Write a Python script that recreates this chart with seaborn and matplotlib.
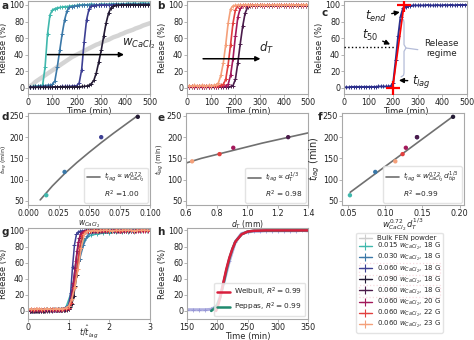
import matplotlib
matplotlib.use("Agg")
import matplotlib.pyplot as plt
import seaborn as sns
from matplotlib.lines import Line2D
from matplotlib.patches import Rectangle

sns.set_style("ticks")
plt.rcParams['font.family'] = ['DejaVu Sans']
plt.rcParams['mathtext.fontset'] = 'dejavusans'

# ---------------- release curves (sampled every 10 min) ----------------
time_min = list(range(0, 501, 10))

bulk_powder = [0, 2, 4, 7, 9, 11, 13, 15, 17, 19,
               21, 23, 25, 27, 29, 31, 33, 35, 37, 38.5,
               40, 41.5, 43, 44.5, 46, 47.5, 49, 50.5, 52, 53,
               54.5, 56, 57, 58, 59.5, 61, 62, 63, 64.5, 65.5,
               67, 68, 69, 70, 71.5, 72.5, 73.5, 75, 76, 77, 78]

w015_18G = [0.5, 1, 1.5, 2, 2, 2.5, 3,
            25, 65, 88,
            94, 95.5, 96.5, 97, 97.5, 98, 98, 98.5, 99, 99, 99.5,
            100, 100, 100.5, 100, 100.5, 101, 100.5, 100, 100.5, 101,
            101, 100.5, 101, 101, 101.5, 101, 101, 101.5, 101, 101.5,
            102, 101.5, 102, 102, 101.5, 102, 102.5, 102, 102, 102]

w030_18G = [1, 1, 1, 1.5, 1.5, 2, 2, 2.5, 3, 3, 4,
            8, 25, 45, 65, 82, 93, 97, 98, 98.5, 99,
            99.5, 99.5, 100, 100, 99.5, 100, 100.5, 100, 100, 100.5,
            100, 100.5, 100.5, 100, 100.5, 101, 100.5, 100.5, 101, 100.5,
            101, 100.5, 101, 101, 100.5, 101, 101, 101.5, 101, 101]

w060_18G = [0.5, 0.5, 0.5, 0.5, 1, 1, 1, 1, 1, 1, 1, 1, 1, 1, 1.5, 1.5, 1.5, 1.5, 2, 2, 2.5,
            6, 22, 55, 82, 95, 98.5, 99, 99.5, 99.5, 100,
            100, 100, 99.5, 100, 100, 100.5, 100, 100, 100.5, 100,
            100, 100.5, 100, 100, 100.5, 100, 100.5, 100.5, 100, 100.5]

w090_18G = [0.5, 0.5, 0.5, 0.5, 0.5, 0.5, 0.5, 0.5, 0.5, 0.5, 0.5, 1, 1, 1, 1, 1, 1, 1, 1, 1,
            1, 1, 1.5, 1.5, 2,
            3, 5, 9, 18, 31, 45, 62, 78, 90, 96.5,
            98.5, 99.5, 99.5, 100, 100, 100,
            100, 100, 100.5, 100, 100, 100.5, 100, 100, 100.5, 100]

d18G = [0.5, 0.5, 0.5, 0.5, 0.5, 0.5, 0.5, 0.5, 0.5, 0.5, 0.5, 0.5, 1, 1, 1, 1, 1, 1, 1.5,
        2.5, 10, 30, 53, 74, 90, 97, 98.5, 99,
        99, 99, 99.5, 99, 99, 99.5, 99, 99, 99.5, 99,
        99, 99.5, 99, 99, 99.5, 99, 99, 99.5, 99, 99,
        99.5, 99, 99]

d20G = [1, 1, 1.5, 1, 1, 1.5, 1, 1, 1.5, 1, 1.5, 1.5, 1, 1.5, 1.5, 2, 2,
        4, 15, 35, 62, 85, 96, 98.5, 99,
        99, 99.5, 99.5, 99, 99.5, 99.5, 99.5, 99, 99.5, 99.5,
        99.5, 99.5, 99, 99.5, 99.5, 99.5, 99.5, 99, 99.5, 99.5,
        99.5, 99.5, 99.5, 99, 99.5, 99.5]

d22G = [1.5, 2, 1.5, 2, 2, 1.5, 2, 2.5, 2, 2, 2.5, 2, 2.5, 2.5, 3,
        4, 10, 28, 52, 78, 94, 98.5, 99.5,
        99.5, 100, 100, 99.5, 100, 100, 100, 99.5, 100, 100,
        100, 99.5, 100, 100, 100, 100, 99.5, 100, 100, 100,
        100, 100, 99.5, 100, 100, 100, 100, 100]

d23G = [2, 2.5, 2, 3, 2.5, 2, 3, 2.5, 2, 3, 2.5, 3, 3.5,
        6, 15, 30, 52, 78, 95, 99, 99.5,
        100, 99.5, 100, 100, 100.5, 100, 99.5, 100, 100, 100,
        100.5, 100, 100, 99.5, 100, 100, 100.5, 100, 100, 100,
        100, 100.5, 100, 100, 100, 99.5, 100, 100, 100.5, 100]

# single release profile used to define the characteristic times
profile_c = [0.5, 0.5, 0.5, 1, 1, 1, 1, 1, 1, 1, 1, 1, 1, 1, 1.5, 1.5, 1.5, 1.5, 1.5, 2,
             6, 33, 62, 86, 96, 98, 99,
             99, 99.5, 99.5, 99.5, 99.5, 99.5, 99.5, 100, 99.5, 99.5,
             99.5, 100, 99.5, 99.5, 100, 99.5, 100, 100, 99.5, 100,
             100, 100, 100, 100]
t_lag_c = 198
t_end_c = 244
t_50_c = 208

# onset times used to normalise the time axis
onset_w = [65, 110, 210, 250]
onset_d = [190, 170, 150, 130]

# ---------------- lag times ----------------
w_cacl2 = [0.015, 0.030, 0.060, 0.090]
tlag_w = [63, 118, 200, 248]
w_fit = [0.01, 0.02, 0.03, 0.04, 0.05, 0.06, 0.07, 0.08, 0.09]
tlag_w_fit = [52, 85, 114, 140, 164, 187, 209, 230, 251]

d_tip = [0.64, 0.82, 0.91, 1.27]
tlag_d = [143, 160, 175, 200]
d_fit = [0.6, 0.7, 0.8, 0.9, 1.0, 1.1, 1.2, 1.3, 1.4]
tlag_d_fit = [139, 150, 159, 168, 177, 186, 194, 202, 210]

comb_w = [0.015, 0.030, 0.060, 0.090, 0.060, 0.060, 0.060, 0.060]
comb_d = [1.27, 1.27, 1.27, 1.27, 1.27, 0.91, 0.82, 0.64]
comb_tlag = [63, 118, 200, 248, 200, 175, 160, 143]
comb_fit_x = [0.053, 0.192]
comb_fit_y = [70, 250]

# ---------------- model fits ----------------
weibull_t = [198, 200, 205, 210, 215, 220, 225, 230, 240, 250, 260, 280, 350]
weibull_r = [0, 3, 17, 35, 52, 66, 77, 86, 95, 98.5, 99.5, 100, 100]
peppas_t = [190, 195, 200, 205, 210, 215, 220, 225, 230, 240, 250, 260, 350]
peppas_r = [0, 3, 8, 17, 33, 50, 65, 77, 86, 95, 98.5, 99.5, 100]

# ---------------- styling ----------------
col_bulk = '#cdcdcd'
cols_w = ['#40b8ad', '#3b78a8', '#3d3f93', '#241b35']
cols_d = ['#4b1c4b', '#a3195b', '#e2403f', '#f4a07a']
col_c = '#2c2f8c'
col_h = '#8c8cd2'
spine_col = '#a8a8a8'
fs_tick = 5.8
fs_lab = 6


def style(ax, tick_fs=fs_tick):
    ax.set_facecolor('none')
    for s in ax.spines.values():
        s.set_visible(True)
        s.set_color(spine_col)
        s.set_linewidth(0.8)
    ax.tick_params(labelsize=tick_fs, length=2, width=0.6, pad=0.8,
                   color=spine_col, labelcolor='#222222')


def curve(ax, x, y, color, lw=1.2, ms=3.5, alpha=1.0, z=2, marker='+'):
    sns.lineplot(x=x, y=y, color=color, lw=lw, marker=marker, markersize=ms,
                 markeredgewidth=0.7, markeredgecolor=color, alpha=alpha,
                 ax=ax, zorder=z, legend=False, estimator=None)


W, H = 474, 340
fig = plt.figure(figsize=(W / 100, H / 100), dpi=100)


def add_ax(l, r, t, b):
    return fig.add_axes([l / W, 1 - b / H, (r - l) / W, (b - t) / H])


ax_a = add_ax(28, 150, 1, 94)
ax_b = add_ax(187, 308, 1, 94)
ax_c = add_ax(344, 467, 1, 94)
ax_d = add_ax(28, 150, 113, 205)
ax_e = add_ax(186, 308, 113, 205)
ax_f = add_ax(342, 464, 113, 205)
ax_g = add_ax(28, 150, 228, 319)
ax_h = add_ax(187, 308, 228, 319)

w_series = [w015_18G, w030_18G, w060_18G, w090_18G]
d_series = [d18G, d20G, d22G, d23G]

# a: effect of CaCl2 concentration
curve(ax_a, time_min, bulk_powder, col_bulk, lw=3.2, ms=0, alpha=0.85, z=1, marker=None)
for ys, c in zip(w_series, cols_w):
    curve(ax_a, time_min, ys, c)
ax_a.annotate('', xy=(405, 40), xytext=(68, 40),
              arrowprops=dict(arrowstyle='-|>', color='k', lw=1.1, mutation_scale=7))
ax_a.text(385, 53, r'$w_{CaCl_2}$', fontsize=8.5, va='center', ha='left')

# b: effect of tip diameter
for ys, c in zip(d_series, cols_d):
    curve(ax_b, time_min, ys, c)
ax_b.annotate('', xy=(315, 35), xytext=(55, 35),
              arrowprops=dict(arrowstyle='-|>', color='k', lw=1.1, mutation_scale=7))
ax_b.text(298, 48, r'$d_T$', fontsize=8.5, va='center', ha='left')

# c: characteristic times
curve(ax_c, time_min, profile_c, col_c, lw=1.4)
ax_c.plot([0, t_50_c], [49, 49], ':', color='k', lw=1.0, zorder=3)
ax_c.plot([t_lag_c, t_end_c], [0, 100], color='red', lw=1.2, zorder=4)
ax_c.plot([t_lag_c, t_end_c], [0, 100], '+', color='red', ms=10, mew=1.6, zorder=5)
arr = dict(arrowstyle='-|>', color='k', lw=1.0, mutation_scale=7, shrinkA=1, shrinkB=2)
ax_c.annotate(r'$t_{end}$', xy=(t_end_c - 6, 92), xytext=(85, 86), fontsize=8.5,
              va='center', arrowprops=arr)
ax_c.annotate(r'$t_{50}$', xy=(t_50_c - 10, 51), xytext=(72, 63), fontsize=8.5,
              va='center', arrowprops=arr)
ax_c.annotate(r'$t_{lag}$', xy=(t_lag_c + 14, 9), xytext=(278, 8), fontsize=8.5,
              va='center', arrowprops=arr)
bx = [232, 242, 244, 244, 252, 244, 244, 242, 232]
by = [84, 82, 79, 52, 48, 44, 18, 15, 13]
ax_c.plot(bx, by, color='#b4bcd8', lw=0.9, zorder=2)
ax_c.plot([252, 300], [48, 46], color='#b4bcd8', lw=0.9, zorder=2)
ax_c.text(395, 47, 'Release\nregime', fontsize=6.3, ha='center', va='center',
          color='#222222', linespacing=1.1)

for ax in (ax_a, ax_b, ax_c):
    ax.set_xlim(0, 500)
    ax.set_ylim(-7.6, 104.8)
    ax.set_xticks([0, 100, 200, 300, 400, 500])
    ax.set_yticks([0, 20, 40, 60, 80, 100])
    ax.set_xlabel('Time (min)', fontsize=fs_lab, labelpad=0.3)
    ax.set_ylabel('Release (%)', fontsize=fs_lab, labelpad=0.5)
    style(ax)


def fit_legend(ax, label, r2):
    hs = [Line2D([], [], color='#707070', lw=1.2), Line2D([], [], color='none')]
    ax.legend(hs, [label, r2], loc='lower right', fontsize=5.3, handlelength=1.8,
              handletextpad=0.5, borderpad=0.4, labelspacing=0.5, frameon=True,
              edgecolor='#dddddd', fancybox=True, borderaxespad=0.3)


# d: lag time vs CaCl2
sns.lineplot(x=w_fit, y=tlag_w_fit, color='#707070', lw=1.2, ax=ax_d, legend=False)
sns.scatterplot(x=w_cacl2, y=tlag_w, hue=[str(v) for v in w_cacl2], palette=cols_w,
                s=10, edgecolor='none', ax=ax_d, legend=False, zorder=3)
ax_d.set_xlim(0, 0.1)
ax_d.set_xticks([0, 0.025, 0.05, 0.075, 0.1])
ax_d.set_xticklabels(['0.000', '0.025', '0.050', '0.075', '0.100'])
ax_d.set_xlabel(r'$w_{CaCl_2}$', fontsize=5.5, labelpad=0.3)
fit_legend(ax_d, r'$t_{lag} \propto w_{CaCl_2}^{0.72}$', r'$R^2$ =1.00')

# e: lag time vs tip diameter
sns.lineplot(x=d_fit, y=tlag_d_fit, color='#707070', lw=1.2, ax=ax_e, legend=False)
sns.scatterplot(x=d_tip, y=tlag_d, hue=[str(v) for v in d_tip], palette=cols_d[::-1],
                s=10, edgecolor='none', ax=ax_e, legend=False, zorder=3)
ax_e.set_xlim(0.6, 1.4)
ax_e.set_xticks([0.6, 0.8, 1.0, 1.2, 1.4])
ax_e.set_xlabel(r'$d_T$ (mm)', fontsize=5.5, labelpad=0.3)
fit_legend(ax_e, r'$t_{lag} \propto d_T^{1/3}$', r'$R^2$ = 0.98')

# f: combined scaling
comb_x = [w ** 0.72 * d ** (1 / 3) for w, d in zip(comb_w, comb_d)]
comb_cols = cols_w + cols_d
sns.lineplot(x=comb_fit_x, y=comb_fit_y, color='#707070', lw=1.2, ax=ax_f, legend=False)
sns.scatterplot(x=comb_x, y=comb_tlag, hue=list(range(len(comb_x))), palette=comb_cols,
                s=10, edgecolor='none', ax=ax_f, legend=False, zorder=3)
ax_f.set_xlim(0.042, 0.206)
ax_f.set_xticks([0.05, 0.10, 0.15, 0.20])
ax_f.set_xticklabels(['0.05', '0.10', '0.15', '0.20'])
ax_f.set_xlabel(r'$w_{CaCl_2}^{0.72}\,d_T^{1/3}$', fontsize=6)
ax_f.xaxis.set_label_coords(0.5, -0.125)
fit_legend(ax_f, r'$t_{lag} \propto w_{CaCl_2}^{0.72}\,d_{tip}^{1/3}$', r'$R^2$ =0.99')

for ax, ylfs, tfs in ((ax_d, 4.5, 5.5), (ax_e, 4.8, fs_tick), (ax_f, 7, fs_tick)):
    ax.set_ylim(40, 257)
    ax.set_yticks([50, 100, 150, 200, 250])
    ax.set_ylabel(r'$t_{lag}$ (min)', fontsize=ylfs, labelpad=0.5)
    style(ax, tfs)
ax_d.yaxis.set_label_coords(-0.148, 0.5)

# g: normalised time
for ys, c, t0 in zip(w_series, cols_w, onset_w):
    curve(ax_g, [t / t0 for t in time_min], ys, c, lw=1.1, ms=3)
for ys, c, t0 in zip(d_series, cols_d, onset_d):
    curve(ax_g, [t / t0 for t in time_min], ys, c, lw=1.1, ms=3)
ax_g.set_xlim(0, 3)
ax_g.set_xticks([0, 1, 2, 3])
ax_g.set_xlabel(r'$t/\hat{t}_{lag}$', fontsize=5.8)
ax_g.xaxis.set_label_coords(0.5, -0.05)

# h: model fits
curve(ax_h, time_min, profile_c, col_h, lw=2.2, ms=3, alpha=0.7, z=1)
sns.lineplot(x=weibull_t, y=weibull_r, color='#d81e3c', lw=1.8, ax=ax_h,
             label=r'Weibull, $R^2 = 0.99$', zorder=3)
sns.lineplot(x=peppas_t, y=peppas_r, color='#1f8a6e', lw=1.8, ax=ax_h,
             label=r'Peppas, $R^2 = 0.99$', zorder=2)
ax_h.set_xlim(150, 350)
ax_h.set_xticks([150, 200, 250, 300, 350])
ax_h.set_xlabel('Time (min)', fontsize=fs_lab, labelpad=0.3)
ax_h.legend(loc='lower right', fontsize=5.3, handlelength=1.8, handletextpad=0.5,
            borderpad=0.4, labelspacing=0.4, edgecolor='#dddddd', borderaxespad=0.4)

for ax in (ax_g, ax_h):
    ax.set_ylim(-10, 103)
    ax.set_yticks([0, 20, 40, 60, 80, 100])
    ax.set_ylabel('Release (%)', fontsize=fs_lab, labelpad=0.5)
    style(ax)

# shared legend
leg_labels = ['Bulk FEN powder',
              r'0.015 $w_{CaCl_2}$, 18 G',
              r'0.030 $w_{CaCl_2}$, 18 G',
              r'0.060 $w_{CaCl_2}$, 18 G',
              r'0.090 $w_{CaCl_2}$, 18 G',
              r'0.060 $w_{CaCl_2}$, 18 G',
              r'0.060 $w_{CaCl_2}$, 20 G',
              r'0.060 $w_{CaCl_2}$, 22 G',
              r'0.060 $w_{CaCl_2}$, 23 G']
leg_cols = [col_bulk] + cols_w + cols_d
handles = [Line2D([], [], color=c, lw=1.0, marker='+', ms=6, mew=0.8) for c in leg_cols]
leg = fig.legend(handles, leg_labels, loc='upper left',
                 bbox_to_anchor=(353 / W, 1 - 229.5 / H), fontsize=5,
                 handlelength=1.9, handletextpad=0.7, labelspacing=0.02,
                 borderpad=0.3, edgecolor='#dddddd', frameon=True)

fig.canvas.draw()
rend = fig.canvas.get_renderer()
lb = leg.get_window_extent(rend)
for i in (3, 5):
    tb = leg.get_texts()[i].get_window_extent(rend)
    x0 = (lb.x0 + 3) / fig.bbox.width
    x1 = (lb.x1 - 3) / fig.bbox.width
    y0 = (tb.y0 - 0.5) / fig.bbox.height
    y1 = (tb.y1 + 0.5) / fig.bbox.height
    fig.add_artist(Rectangle((x0, y0), x1 - x0, y1 - y0, transform=fig.transFigure,
                             fill=False, ec='#e0506a', ls=':', lw=0.9))

# panel letters
for letter, (px, py) in {'a': (1, 6), 'b': (157, 6), 'c': (321, 13),
                         'd': (1, 117), 'e': (158, 118), 'f': (318, 117),
                         'g': (1, 232), 'h': (157, 232)}.items():
    fig.text(px / W, 1 - py / H, letter, fontsize=7.5, fontweight='bold',
             ha='left', va='center')

fig.savefig('out.png', dpi=100)
